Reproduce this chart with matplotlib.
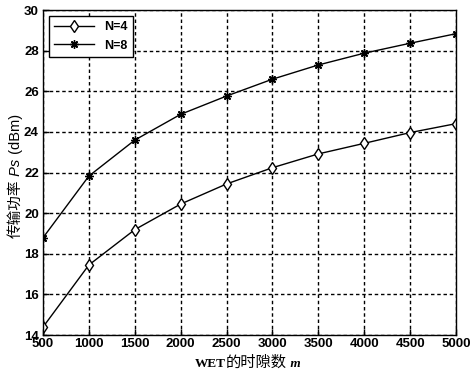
import matplotlib
matplotlib.use('Agg')
from matplotlib import pyplot as plt

# dados
slots = [500, 1000, 1500, 2000, 2500, 3000, 3500, 4000, 4500, 5000]
potencia_n4 = [14.39, 17.45, 19.19, 20.45, 21.44, 22.24, 22.92, 23.44, 23.97, 24.41]
potencia_n8 = [18.79, 21.83, 23.60, 24.87, 25.77, 26.60, 27.30, 27.88, 28.37, 28.84]
legendas = ['N=4', 'N=8']
y_ticks = [14, 16, 18, 20, 22, 24, 26, 28, 30]

cjk = ['Noto Sans CJK SC', 'DejaVu Sans']

fig = plt.figure(figsize=(4.74, 3.76), dpi=100)
ax = fig.add_axes([0.0907, 0.109, 0.8713, 0.864])

ax.plot(slots, potencia_n4, color='black', lw=1, marker='d', ms=6,
        mfc='white', mec='black', mew=1, label=legendas[0])
ax.plot(slots, potencia_n8, color='black', lw=1, marker=(8, 2, 0), ms=6,
        mec='black', mew=1, label=legendas[1])

ax.set_xlim(500, 5000)
ax.set_ylim(14, 30)
ax.set_xticks(slots)
ax.set_yticks(y_ticks)
ax.tick_params(direction='in', length=4, width=1, labelsize=9.5)
ax.tick_params(axis='x', pad=2.5)
ax.tick_params(axis='y', pad=3)
for lbl in ax.get_xticklabels() + ax.get_yticklabels():
    lbl.set_fontweight('bold')
    lbl.set_family('Liberation Sans')
for s in ax.spines.values():
    s.set_linewidth(1)

ax.grid(True, color='black', linestyle=(0, (2.5, 2)), linewidth=1)

leg = ax.legend(loc='upper left', numpoints=1, fancybox=False, framealpha=1,
                edgecolor='black', handlelength=3.2, borderpad=0.4,
                labelspacing=0.5, borderaxespad=0.5,
                prop={'family': 'Liberation Sans', 'weight': 'bold', 'size': 9})
leg.get_frame().set_linewidth(1)

# rótulo do eixo y em partes (rotacionado)
yx = -0.056
t1 = ax.text(yx, 0.298, '传输功率', transform=ax.transAxes, rotation=90,
             rotation_mode='anchor', ha='left', va='baseline',
             family=cjk, fontsize=10.5)
t2 = ax.annotate(' Ps', xy=(yx, 1), xycoords=('axes fraction', t1),
                 rotation=90, rotation_mode='anchor', ha='left',
                 va='baseline', family='Liberation Sans', style='italic',
                 fontsize=10.5)
t3 = ax.annotate(' (dBm)', xy=(yx, 1), xycoords=('axes fraction', t2),
                 rotation=90, rotation_mode='anchor', ha='left',
                 va='baseline', family='Liberation Sans', fontsize=10.5)

# rótulo do eixo x em partes
xy_base = -0.098
x1 = ax.text(0.368, xy_base, 'WET', transform=ax.transAxes, ha='left',
             va='baseline', family='Liberation Serif', weight='bold',
             fontsize=9.5)
x2 = ax.annotate('的时隙数', xy=(1, xy_base), xycoords=(x1, 'axes fraction'),
                 ha='left', va='baseline', family=cjk, fontsize=11)
x3 = ax.annotate(' m', xy=(1, xy_base), xycoords=(x2, 'axes fraction'),
                 ha='left', va='baseline', family='Liberation Serif',
                 style='italic', weight='bold', fontsize=9.5)

plt.savefig('out.png', dpi=100)
